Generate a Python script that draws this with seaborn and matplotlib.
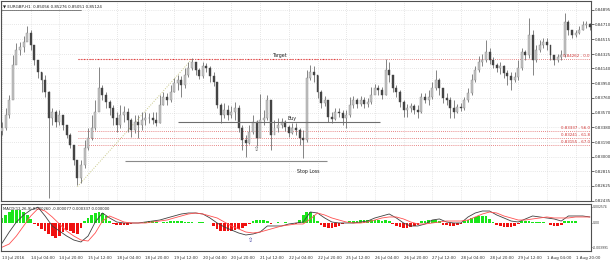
import numpy as np
import pandas as pd
import matplotlib
matplotlib.use("Agg")
import matplotlib.pyplot as plt
import seaborn as sns

# ---------------- data (2-hour bars, EURGBP) ----------------
first_open = 0.83330
close = [0.83375,0.83543,0.83736,0.84187,0.84380,0.84419,0.84483,0.84599,0.84444,0.84251,
         0.84097,0.83994,0.83839,0.83504,0.83581,0.83453,0.83543,0.83414,0.83285,0.83156,
         0.82963,0.82731,0.82899,0.83118,0.83247,0.83375,0.83581,0.83891,0.83800,0.83710,
         0.83633,0.83504,0.83414,0.83543,0.83581,0.83478,0.83350,0.83453,0.83414,0.83478,
         0.83504,0.83504,0.83478,0.83440,0.83672,0.83775,0.83736,0.83839,0.83955,0.83994,
         0.83929,0.84058,0.84148,0.84225,0.84122,0.84045,0.84174,0.84148,0.84045,0.83968,
         0.83672,0.83543,0.83607,0.83543,0.83581,0.83633,0.83375,0.83221,0.83182,0.83324,
         0.83453,0.83247,0.83478,0.83504,0.83736,0.83285,0.83375,0.83414,0.83453,0.83388,
         0.83311,0.83375,0.83350,0.83247,0.83221,0.84019,0.84097,0.84058,0.83839,0.83697,
         0.83736,0.83517,0.83491,0.83581,0.83569,0.83504,0.83543,0.83672,0.83736,0.83684,
         0.83736,0.83684,0.83710,0.83800,0.83891,0.83865,0.83800,0.84122,0.84058,0.83891,
         0.83839,0.83710,0.83607,0.83633,0.83659,0.83607,0.83581,0.83775,0.83736,0.83775,
         0.83891,0.83994,0.83891,0.83762,0.83736,0.83633,0.83581,0.83646,0.83633,0.83736,
         0.83826,0.83994,0.84122,0.84225,0.84251,0.84354,0.84251,0.84187,0.84148,0.84174,
         0.84084,0.84045,0.83994,0.84032,0.84148,0.84354,0.84316,0.84573,0.84251,0.84380,
         0.84444,0.84483,0.84444,0.84316,0.84251,0.84290,0.84316,0.84741,0.84638,0.84573,
         0.84599,0.84638,0.84702,0.84715,0.84676]
high = [0.83453,0.83633,0.83800,0.84316,0.84470,0.84483,0.84560,0.84689,0.84638,0.84444,
        0.84251,0.84097,0.84058,0.83845,0.83633,0.83607,0.83607,0.83504,0.83414,0.83311,
        0.83156,0.82963,0.82963,0.83221,0.83375,0.83543,0.83736,0.84161,0.83929,0.83839,
        0.83736,0.83672,0.83581,0.83672,0.83659,0.83633,0.83504,0.83543,0.83543,0.83581,
        0.83581,0.83569,0.83581,0.83581,0.83800,0.83839,0.83826,0.83929,0.84019,0.84058,
        0.84045,0.84148,0.84225,0.84277,0.84225,0.84148,0.84225,0.84213,0.84174,0.84097,
        0.83942,0.83697,0.83697,0.83672,0.83659,0.83710,0.83672,0.83414,0.83285,0.83414,
        0.83543,0.83478,0.83813,0.83607,0.83800,0.83736,0.83478,0.83504,0.83504,0.83478,
        0.83414,0.83440,0.83440,0.83375,0.83350,0.84122,0.84187,0.84174,0.84058,0.83865,
        0.83788,0.83736,0.83581,0.83633,0.83633,0.83607,0.83607,0.83775,0.83788,0.83762,
        0.83788,0.83775,0.83762,0.83903,0.83942,0.83929,0.83903,0.84264,0.84225,0.84058,
        0.83929,0.83865,0.83736,0.83684,0.83697,0.83684,0.83672,0.83826,0.83826,0.83865,
        0.83968,0.84122,0.84019,0.83891,0.83826,0.83775,0.83736,0.83684,0.83697,0.83775,
        0.83891,0.84071,0.84174,0.84303,0.84328,0.84509,0.84406,0.84290,0.84213,0.84225,
        0.84187,0.84122,0.84097,0.84097,0.84251,0.84406,0.84380,0.84792,0.84638,0.84444,
        0.84509,0.84535,0.84535,0.84444,0.84316,0.84328,0.84380,0.84857,0.84766,0.84638,
        0.84638,0.84689,0.84754,0.84754,0.84728]
low = [0.83285,0.83350,0.83504,0.83994,0.84251,0.84316,0.84354,0.84509,0.84380,0.84187,
       0.84019,0.83839,0.83775,0.82474,0.83414,0.83388,0.83414,0.83350,0.83247,0.83118,
       0.82899,0.82641,0.82667,0.82860,0.83092,0.83221,0.83350,0.83736,0.83736,0.83633,
       0.83543,0.83414,0.83324,0.83375,0.83453,0.83324,0.83259,0.83311,0.83247,0.83350,
       0.83414,0.83440,0.83427,0.83401,0.83440,0.83672,0.83672,0.83710,0.83839,0.83865,
       0.83775,0.83891,0.84032,0.84122,0.84058,0.84006,0.84019,0.84097,0.83968,0.83916,
       0.83633,0.83440,0.83504,0.83478,0.83504,0.83478,0.83324,0.83092,0.83002,0.83169,
       0.83298,0.83144,0.83285,0.83414,0.83478,0.83092,0.83298,0.83324,0.83375,0.83337,
       0.83259,0.83298,0.83285,0.83156,0.82989,0.83195,0.83994,0.83968,0.83762,0.83633,
       0.83659,0.83453,0.83440,0.83478,0.83517,0.83414,0.83375,0.83517,0.83633,0.83633,
       0.83659,0.83633,0.83646,0.83684,0.83813,0.83800,0.83749,0.83800,0.83968,0.83839,
       0.83775,0.83646,0.83517,0.83517,0.83581,0.83556,0.83504,0.83569,0.83697,0.83672,
       0.83749,0.83865,0.83800,0.83697,0.83672,0.83504,0.83504,0.83569,0.83594,0.83607,
       0.83710,0.83800,0.83968,0.84097,0.84174,0.84225,0.84200,0.84148,0.84097,0.84071,
       0.84019,0.83929,0.83865,0.83968,0.83994,0.84122,0.84251,0.84277,0.84058,0.84225,
       0.84354,0.84406,0.84380,0.84251,0.84187,0.84225,0.84251,0.84290,0.84573,0.84535,
       0.84547,0.84586,0.84638,0.84663,0.84638]

# MACD main / signal (every 2nd bar) and OsMA histogram (every bar)
macd_main = [-0.00330,-0.00150,0.00011,0.00124,0.00204,0.00250,0.00108,-0.00053,-0.00134,-0.00214,
             -0.00279,-0.00311,-0.00214,0.00011,0.00156,0.00076,0.00011,-0.00005,-0.00005,-0.00005,
             0.00011,0.00027,0.00043,0.00076,0.00108,0.00140,0.00156,0.00156,0.00140,0.00076,
             -0.00005,-0.00069,-0.00118,-0.00166,-0.00198,-0.00182,-0.00150,-0.00053,-0.00053,-0.00053,
             -0.00021,-0.00005,0.00011,0.00172,0.00156,0.00076,0.00011,-0.00005,-0.00005,-0.00005,
             0.00011,0.00027,0.00076,0.00108,0.00140,0.00076,-0.00005,-0.00053,-0.00053,-0.00021,
             0.00043,0.00060,0.00011,-0.00005,-0.00005,0.00092,0.00156,0.00188,0.00188,0.00124,
             0.00076,0.00027,0.00011,0.00060,0.00108,0.00092,0.00076,0.00060,0.00027,0.00108,
             0.00108,0.00108,0.00092]
macd_signal = [-0.00395,-0.00343,-0.00214,-0.00053,0.00108,0.00225,0.00188,0.00092,-0.00021,-0.00134,
               -0.00214,-0.00279,-0.00295,-0.00166,0.00027,0.00108,0.00060,0.00011,-0.00005,-0.00005,
               -0.00005,0.00011,0.00027,0.00043,0.00076,0.00108,0.00140,0.00156,0.00140,0.00108,
               0.00076,0.00011,-0.00053,-0.00101,-0.00150,-0.00166,-0.00150,-0.00118,-0.00085,-0.00053,
               -0.00037,-0.00021,-0.00021,0.00060,0.00156,0.00124,0.00076,0.00043,0.00011,-0.00005,
               -0.00005,0.00011,0.00043,0.00076,0.00092,0.00092,0.00060,0.00011,-0.00021,-0.00021,
               -0.00005,0.00011,0.00027,0.00027,0.00027,0.00043,0.00092,0.00140,0.00172,0.00156,
               0.00108,0.00076,0.00043,0.00043,0.00060,0.00076,0.00092,0.00076,0.00076,0.00076,
               0.00092,0.00092,0.00092]
osma = [0.0008,0.0013,0.0017,0.0020,0.0021,0.0020,0.0017,0.0013,0.0006,-0.0002,
        -0.0006,-0.0010,-0.0014,-0.0018,-0.0022,-0.0024,-0.0022,-0.0015,-0.0011,-0.0014,
        -0.0017,-0.0018,-0.0009,0.0002,0.0007,0.0012,0.0015,0.0017,0.0016,0.0010,
        0.0003,-0.0002,-0.0004,-0.0004,-0.0003,-0.0003,-0.0002,-0.0001,-0.0001,0.0000,
        0.0001,0.0003,0.0003,0.0001,0.0000,0.0001,0.0001,0.0002,0.0002,0.0002,
        0.0003,0.0001,0.0001,0.0001,0.0000,0.0001,0.0001,0.0000,-0.0001,-0.0005,
        -0.0010,-0.0013,-0.0014,-0.0014,-0.0013,-0.0012,-0.0010,-0.0009,-0.0005,-0.0002,
        0.0003,0.0004,0.0005,0.0005,0.0003,-0.0002,-0.0001,0.0001,-0.0001,0.0001,
        -0.0001,-0.0001,-0.0002,0.0004,0.0012,0.0017,0.0018,0.0012,0.0002,-0.0004,
        -0.0007,-0.0008,-0.0008,-0.0007,-0.0005,-0.0002,-0.0001,0.0002,0.0003,0.0003,
        0.0004,0.0004,0.0004,0.0004,0.0005,0.0004,0.0003,0.0005,0.0003,-0.0002,
        -0.0005,-0.0007,-0.0008,-0.0008,-0.0007,-0.0005,-0.0003,0.0002,0.0003,0.0004,
        0.0004,0.0004,0.0002,-0.0003,-0.0004,-0.0005,-0.0005,-0.0004,-0.0002,0.0002,
        0.0005,0.0008,0.0009,0.0011,0.0011,0.0010,0.0006,0.0001,-0.0003,-0.0006,
        -0.0007,-0.0007,-0.0007,-0.0006,-0.0002,0.0002,0.0003,0.0003,0.0001,0.0001,
        0.0001,0.0001,-0.0001,-0.0004,-0.0005,-0.0005,-0.0003,0.0002,0.0003,0.0003,
        0.0002,-0.0001,-0.0001,0.0000,-0.0001]

date_labels = ["13 Jul 2016","14 Jul 04:00","14 Jul 20:00","15 Jul 12:00","18 Jul 04:00",
               "18 Jul 20:00","19 Jul 12:00","20 Jul 04:00","20 Jul 20:00","21 Jul 12:00",
               "22 Jul 04:00","22 Jul 20:00","25 Jul 12:00","26 Jul 04:00","26 Jul 20:00",
               "27 Jul 12:00","28 Jul 04:00","28 Jul 20:00","29 Jul 12:00","1 Aug 04:00",
               "1 Aug 20:00"]
price_ticks = [0.84895,0.84710,0.84515,0.84325,0.84140,0.83950,0.83760,0.83570,
               0.83380,0.83190,0.83000,0.82815,0.82625,0.82435]
macd_ticks = [0.002574, 0.0, -0.003991]
macd_tick_labels = ["0.002574", "0.00", "-0.003991"]

target_level = 0.84262
buy_level = 0.83453
stop_level = 0.82941
fib_levels = [0.84262, 0.83337, 0.83241, 0.83155]
fib_labels = ["0.84262 - 0.0", "0.83337 - 56.0", "0.83241 - 61.8", "0.83155 - 67.0"]
fib_low = 0.82615

title_text = "\u25bc EURGBP,H1  0.85056 0.85276 0.85051 0.85124"
macd_text = "MACD(12,26,9) 0.000260 -0.000077 0.000337 0.000000"

# ---------------- build frames ----------------
n = len(close)
bars = pd.DataFrame({"bar": np.arange(n), "close": close, "high": high, "low": low})
bars["open"] = [first_open] + close[:-1]
macd_df = pd.DataFrame({"bar": np.arange(0, 2 * len(macd_main), 2),
                        "main": macd_main, "signal": macd_signal})
hist_df = pd.DataFrame({"bar": np.arange(len(osma)), "osma": osma})

sns.set_style("white")
plt.rcParams["font.family"] = ["DejaVu Sans"]

fig = plt.figure(figsize=(6.10, 2.62), dpi=100)
W, H = 610.0, 262.0
ax = fig.add_axes([1 / W, 1 - 201 / H, 590 / W, 200 / H])
ax2 = fig.add_axes([1 / W, 1 - 251 / H, 590 / W, 47 / H])

xlim = (-0.3, 164.3)
tick_pos = np.arange(0, 8 * len(date_labels), 8)

# ---- main price panel ----
ax.set_xlim(*xlim)
ax.set_ylim(0.82430, 0.85011)
for v in price_ticks:
    ax.axhline(v, color="#d0d0d0", lw=0.5, ls=(0, (1, 2)), zorder=0)
for t in tick_pos:
    ax.axvline(t, color="#d0d0d0", lw=0.5, ls=(0, (1, 2)), zorder=0)

up = bars["close"] >= bars["open"]
ax.vlines(bars["bar"], bars["low"], bars["high"], color="#707070", lw=0.6, zorder=3)
body_lo = np.minimum(bars["open"], bars["close"])
body_h = np.maximum(np.abs(bars["close"] - bars["open"]), 0.00003)
ax.bar(bars["bar"][up], body_h[up], bottom=body_lo[up], width=0.55,
       color="#c4c4c4", edgecolor="#8a8a8a", linewidth=0.3, zorder=4)
ax.bar(bars["bar"][~up], body_h[~up], bottom=body_lo[~up], width=0.55,
       color="#444444", edgecolor="#444444", linewidth=0.3, zorder=4)

# Fibonacci / trade objects
ax.plot([21, 53], [fib_low, target_level], color="#c9c98a", lw=0.7, ls=(0, (1, 1.5)), zorder=2)
ax.hlines(target_level, 21.2, 94.3, color="#e03030", lw=0.8, ls=(0, (1, 1.5)), zorder=2)
for lv, lb in zip(fib_levels, fib_labels):
    ax.hlines(lv, 21.2, xlim[1], color="#e06060", lw=0.6, ls=(0, (1, 1.5)), zorder=2)
    ax.text(164.0, lv + 0.00012, lb, color="#d03030", fontsize=2.9,
            ha="right", va="bottom", zorder=6)
ax.hlines(buy_level, 49.1, 105.4, color="#6e6e6e", lw=0.8, zorder=5)
ax.hlines(stop_level, 34.3, 90.7, color="#8a8a8a", lw=0.8, zorder=5)
ax.text(80.9, buy_level + 0.00012, "Buy", fontsize=3.4, color="#202020", ha="center", va="bottom", zorder=6)
ax.text(77.5, target_level + 0.00012, "Target", fontsize=3.4, color="#202020", ha="center", va="bottom", zorder=6)
ax.text(85.4, 0.82809, "Stop Loss", fontsize=3.4, color="#202020", ha="center", va="center", zorder=6)
ax.text(71.1, 0.83092, "\u21e7", fontsize=4.5, color="#505050", ha="center", va="center", zorder=6)
ax.text(0.004, 0.985, title_text, transform=ax.transAxes, fontsize=2.9, color="#202020",
        ha="left", va="top")
ax.plot([0.0, 0.135], [0.955, 0.955], transform=ax.transAxes, color="#505050", lw=0.5)

ax.yaxis.tick_right()
ax.set_yticks(price_ticks)
ax.set_yticklabels([f"{v:.5f}" for v in price_ticks])
ax.tick_params(axis="y", labelsize=2.9, length=2, width=0.5, pad=1, colors="#303030")
ax.set_xticks(tick_pos)
ax.tick_params(axis="x", length=0, labelbottom=False)
for s in ax.spines.values():
    s.set_color("#505050")
    s.set_linewidth(0.8)

# ---- MACD panel ----
ax2.set_xlim(*xlim)
ax2.set_ylim(-0.00456, 0.00301)
pos = hist_df["osma"] >= 0
ax2.bar(hist_df["bar"][pos], hist_df["osma"][pos], width=0.75, color="#19e619", linewidth=0)
ax2.bar(hist_df["bar"][~pos], hist_df["osma"][~pos], width=0.75, color="#f01010", linewidth=0)
sns.lineplot(data=macd_df, x="bar", y="main", ax=ax2, color="#404040", lw=0.6, legend=False)
sns.lineplot(data=macd_df, x="bar", y="signal", ax=ax2, color="#ff5050", lw=0.6, legend=False)
ax2.text(69.2, -0.00279, "\u21e7", fontsize=4.5, color="#4040a0", ha="center", va="center")
ax2.text(0.004, 0.94, macd_text, transform=ax2.transAxes, fontsize=2.7, color="#202020",
         ha="left", va="top")
ax2.set_xlabel("")
ax2.set_ylabel("")
ax2.yaxis.tick_right()
ax2.set_yticks(macd_ticks)
ax2.set_yticklabels(macd_tick_labels)
ax2.tick_params(axis="y", labelsize=2.2, length=1, width=0.5, pad=0.4, colors="#303030")
ax2.set_xticks(tick_pos)
ax2.set_xticklabels(date_labels, ha="left")
ax2.tick_params(axis="x", labelsize=2.9, length=2, width=0.5, pad=1.5, colors="#303030")
for s in ax2.spines.values():
    s.set_color("#505050")
    s.set_linewidth(0.8)

fig.savefig("out.png", dpi=100, facecolor="white")
